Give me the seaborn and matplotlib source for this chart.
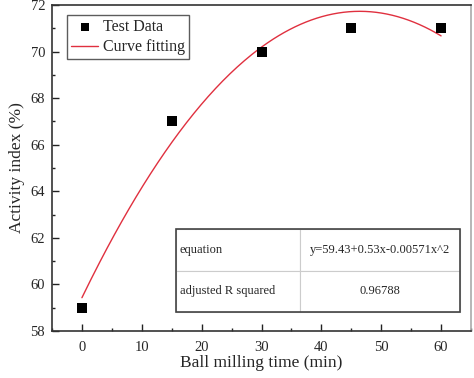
import numpy as np
import pandas as pd
import matplotlib
matplotlib.use("Agg")
import matplotlib.pyplot as plt
from matplotlib.ticker import MultipleLocator
import seaborn as sns

# measured points
milling_time = [0, 15, 30, 45, 60]
activity_index = [59, 67, 70, 71, 71]

# quadratic fit from the table: y = c0 + c1*x + c2*x^2
fit_coef = [59.43, 0.53, -0.00571]
adj_r2 = "0.96788"
table_rows = [["equation", "y=59.43+0.53x-0.00571x^2"],
              ["adjusted R squared", adj_r2]]

x_ticks = [0, 10, 20, 30, 40, 50, 60]
y_ticks = [58, 60, 62, 64, 66, 68, 70, 72]

SERIF = ["Liberation Serif", "DejaVu Serif"]

sns.set_style("ticks")
plt.rcParams["font.family"] = SERIF
plt.rcParams["font.serif"] = SERIF

fig = plt.figure(figsize=(4.74, 3.78), dpi=100)
ax = fig.add_axes([52 / 474, 1 - 331 / 378, 419 / 474, 326 / 378])

df = pd.DataFrame({"x": milling_time, "y": activity_index})
xs = np.linspace(min(milling_time), max(milling_time), 200)
curve = pd.DataFrame({"x": xs, "y": fit_coef[0] + fit_coef[1] * xs + fit_coef[2] * xs ** 2})

sns.lineplot(data=curve, x="x", y="y", ax=ax, color="#e0303f", lw=1.0,
             label="Curve fitting", zorder=2)
sns.scatterplot(data=df, x="x", y="y", ax=ax, marker="s", s=42, color="black",
                edgecolor="black", linewidth=0, label="Test Data", zorder=3)

ax.set_xlim(-5, 65)
ax.set_ylim(58, 72)
ax.set_xticks(x_ticks)
ax.set_yticks(y_ticks)
ax.xaxis.set_minor_locator(MultipleLocator(5))
ax.yaxis.set_minor_locator(MultipleLocator(1))
ax.tick_params(which="both", direction="in", top=False, right=False,
               labelsize=10.5, width=1.0, color="#222222")
ax.tick_params(which="major", length=5)
ax.tick_params(which="minor", length=2.5)
ax.tick_params(axis="x", pad=7)
ax.tick_params(axis="y", pad=5)
for lab in ax.get_xticklabels() + ax.get_yticklabels():
    lab.set_family(SERIF)

for side in ["left", "bottom", "top"]:
    ax.spines[side].set_color("#333333")
    ax.spines[side].set_linewidth(1.2)
ax.spines["right"].set_color("#aaaaaa")
ax.spines["right"].set_linewidth(1.2)

ax.set_xlabel("Ball milling time (min)", fontsize=12.5, labelpad=1, family=SERIF)
ax.set_ylabel("Activity index (%)", fontsize=12.5, labelpad=4, family=SERIF)

handles, labels = ax.get_legend_handles_labels()
order = [labels.index("Test Data"), labels.index("Curve fitting")]
leg = ax.legend([handles[i] for i in order], [labels[i] for i in order],
                loc="upper left", bbox_to_anchor=(0.036, 0.969),
                prop={"family": SERIF, "size": 11.5},
                frameon=True, fancybox=False, edgecolor="#333333",
                borderpad=0.25, labelspacing=0.25, handlelength=1.7,
                handletextpad=0.3, borderaxespad=0, markerscale=0.8)
leg.get_frame().set_linewidth(1.0)

tbl = ax.table(cellText=table_rows, colWidths=[0.4366 * 0.678, 0.5634 * 0.678],
               bbox=[0.296, 0.058, 0.678, 0.255], cellLoc="center")
tbl.auto_set_font_size(False)
for (r, c), cell in tbl.get_celld().items():
    cell.set_edgecolor("#cccccc")
    cell.set_linewidth(0.8)
    cell.set_text_props(fontsize=9, family=SERIF)
    if c == 0:
        cell.set_text_props(ha="left")
        cell.PAD = 0.03
# outer border of the table
ax.add_patch(plt.Rectangle((0.296, 0.058), 0.678, 0.255, transform=ax.transAxes,
                           fill=False, edgecolor="#444444", lw=1.2, zorder=5))

fig.savefig("out.png", dpi=100)
